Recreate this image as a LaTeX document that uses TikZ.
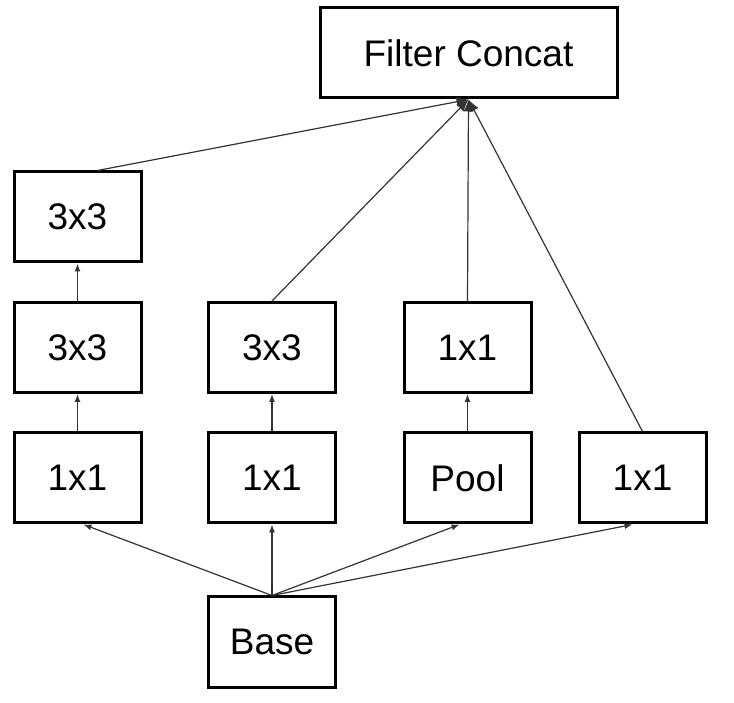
\documentclass[tikz,border=0pt]{standalone}
\usepackage{fontspec}
\setmainfont{Liberation Sans}
\usetikzlibrary{arrows.meta}
\begin{document}
\begin{tikzpicture}[x=0.5pt,y=0.5pt,
		box/.style={draw,line width=1.5pt,minimum width=63.5pt,minimum height=45pt,inner sep=0pt,font=\fontsize{18.5}{20}\selectfont},
		link/.style={line width=0.6pt,draw=black!80,-{Latex[length=4pt,width=3pt]}},
		merge/.style={line width=0.6pt,draw=black!80,-{Latex[length=6pt,width=5pt]}}]
		\useasboundingbox (0,0) rectangle (734,702);
		\node [box,minimum width=148.5pt] (concat) at (468.5,649) {Filter Concat};
		\node [box] (a3) at (77.5,485) {3x3};
		\node [box] (a2) at (77.5,354.5) {3x3};
		\node [box] (b2) at (272,354.5) {3x3};
		\node [box] (c2) at (467.5,354.5) {1x1};
		\node [box] (a1) at (77.5,224) {1x1};
		\node [box] (b1) at (272,224) {1x1};
		\node [box] (c1) at (467.5,224) {Pool};
		\node [box] (d1) at (642.5,224) {1x1};
		\node [box] (base) at (272,60) {Base};
		\draw [link] (base.north) to ([xshift=3pt]a1.south);
		\draw [link] (base.north) to (b1.south);
		\draw [link] (base.north) to ([xshift=-4pt]c1.south);
		\draw [link] (base.north) to ([xshift=-5pt]d1.south);
		\draw [link] (a1) to (a2);
		\draw [link] (a2) to (a3);
		\draw [link] (b1) to (b2);
		\draw [link] (c1) to (c2);
		\draw [merge] ([xshift=10pt]a3.north) to (concat.south);
		\draw [merge] (b2.north) to (concat.south);
		\draw [merge] (c2.north) to (concat.south);
		\draw [merge] (d1.north) to (concat.south);
	\end{tikzpicture}
\end{document}
